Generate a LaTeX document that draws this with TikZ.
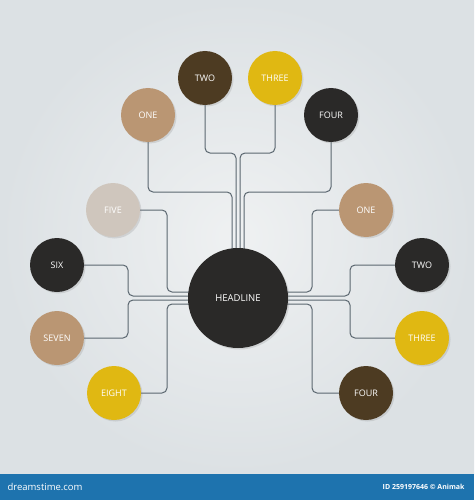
\documentclass[tikz,border=0pt]{standalone}
\usepackage{fontspec}
\setmainfont{Open Sans}
\usetikzlibrary{backgrounds,shadows,calc}
\definecolor{tanc}{HTML}{BA9673}
\definecolor{brownc}{HTML}{4D3B22}
\definecolor{yellowc}{HTML}{E0B812}
\definecolor{darkc}{HTML}{2A2928}
\definecolor{beigec}{HTML}{CFC6BD}
\definecolor{wirec}{HTML}{5B6770}
\definecolor{barc}{HTML}{1E73AE}
\definecolor{bginner}{HTML}{EFF1F2}
\definecolor{bgouter}{HTML}{DCE1E4}

\begin{document}
\begin{tikzpicture}[x=1pt,y=-1pt,
    bubble/.style={circle,minimum size=54pt,inner sep=0pt,text=white,
      font=\fontsize{9}{11}\selectfont,
      drop shadow={opacity=0.22,shadow xshift=1.5pt,shadow yshift=-1.5pt}},
    wire/.style={draw=wirec,line width=1pt,rounded corners=5pt}]
      \useasboundingbox (0,0) rectangle (474,500);

      \node [bubble,fill=darkc,minimum size=100pt,font=\fontsize{9.5}{11}\selectfont] (head) at (238,298) {HEADLINE};

      \node [bubble,fill=tanc] (one) at (148,115) {ONE};
      \node [bubble,fill=brownc] (two) at (205,78) {TWO};
      \node [bubble,fill=yellowc] (three) at (275,78) {THREE};
      \node [bubble,fill=darkc] (four) at (331,115) {FOUR};

      \node [bubble,fill=beigec] (five) at (113,210) {FIVE};
      \node [bubble,fill=darkc] (six) at (57,265) {SIX};
      \node [bubble,fill=tanc] (seven) at (57,338) {SEVEN};
      \node [bubble,fill=yellowc] (eight) at (114,393) {EIGHT};

      \node [bubble,fill=tanc] (rone) at (366,210) {ONE};
      \node [bubble,fill=darkc] (rtwo) at (422,265) {TWO};
      \node [bubble,fill=yellowc] (rthree) at (422,338) {THREE};
      \node [bubble,fill=brownc] (rfour) at (366,393) {FOUR};

      \node [fill=barc,minimum width=474pt,minimum height=26pt,inner sep=0pt,anchor=north west] (bar) at (0,474) {};
      \node [text=white,font=\fontsize{9.5}{11}\selectfont,anchor=west] (site) at (4,487) {dreamstime.com};
      \node [text=white,font=\bfseries\fontsize{7}{8}\selectfont,anchor=east] (ident) at (468,487) {ID 259197646 \textcopyright{} Animak};

      \begin{scope}[on background layer]
        \fill [inner color=bginner,outer color=bgouter] (0,0) rectangle (474,474);

        \draw [wire] (one.south) |- ($(head.center)+(-6,-106)$) -- ($(head.center)+(-6,0)$);
        \draw [wire] (two.south) |- ($(head.center)+(-2,-145)$) -- ($(head.center)+(-2,0)$);
        \draw [wire] (three.south) |- ($(head.center)+(2,-145)$) -- ($(head.center)+(2,0)$);
        \draw [wire] (four.south) |- ($(head.center)+(6,-106)$) -- ($(head.center)+(6,0)$);

        \draw [wire] (five.east) -| ($(head.center)+(-71,-6)$) -- ($(head.center)+(0,-6)$);
        \draw [wire] (six.east) -| ($(head.center)+(-110,-2)$) -- ($(head.center)+(0,-2)$);
        \draw [wire] (seven.east) -| ($(head.center)+(-110,2)$) -- ($(head.center)+(0,2)$);
        \draw [wire] (eight.east) -| ($(head.center)+(-71,6)$) -- ($(head.center)+(0,6)$);

        \draw [wire] (rone.west) -| ($(head.center)+(74,-6)$) -- ($(head.center)+(0,-6)$);
        \draw [wire] (rtwo.west) -| ($(head.center)+(112,-2)$) -- ($(head.center)+(0,-2)$);
        \draw [wire] (rthree.west) -| ($(head.center)+(112,2)$) -- ($(head.center)+(0,2)$);
        \draw [wire] (rfour.west) -| ($(head.center)+(74,6)$) -- ($(head.center)+(0,6)$);
      \end{scope}
    \end{tikzpicture}
\end{document}
